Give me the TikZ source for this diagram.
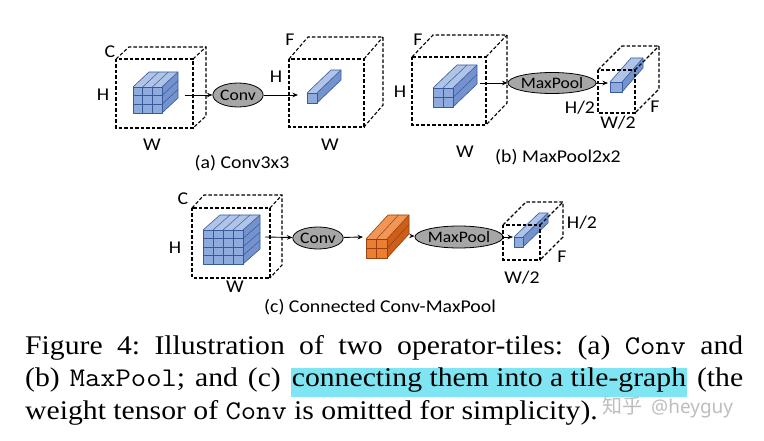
\documentclass[tikz,border=0pt]{standalone}
\usepackage{fontspec}
\usetikzlibrary{arrows.meta,shapes.geometric}
\newfontfamily\diag[FakeStretch=1.1]{Carlito}
\newfontfamily\capfont[FakeStretch=1.1]{Liberation Serif}
\newfontfamily\capmono[FakeStretch=1.1]{Latin Modern Mono}
\newfontfamily\cjk{Noto Sans CJK SC}
\newfontfamily\wmfont{Noto Sans}
\definecolor{cubeF}{RGB}{143,170,220}
\definecolor{cubeT}{RGB}{176,196,232}
\definecolor{cubeR}{RGB}{116,147,206}
\definecolor{cubeL}{RGB}{55,90,155}
\definecolor{orF}{RGB}{237,125,49}
\definecolor{orT}{RGB}{242,150,85}
\definecolor{orR}{RGB}{205,95,25}
\definecolor{orL}{RGB}{150,65,15}
\definecolor{ellfill}{RGB}{166,166,166}
\definecolor{hl}{RGB}{128,229,242}
\definecolor{wm}{RGB}{190,190,190}
\newcommand{\tilecube}[9]{%
  \fill[#9F] (#1,#2) rectangle ({#1+#3},{#2+#4});
  \fill[#9T] (#1,#2) -- ({#1+#5},{#2+(#6)}) -- ({#1+#3+#5},{#2+(#6)}) -- ({#1+#3},#2) -- cycle;
  \fill[#9R] ({#1+#3},#2) -- ({#1+#3+#5},{#2+(#6)}) -- ({#1+#3+#5},{#2+#4+(#6)}) -- ({#1+#3},{#2+#4}) -- cycle;
  \ifnum#7>1
    \pgfmathtruncatemacro\nxm{#7-1}%
    \foreach \i in {1,...,\nxm}{%
      \draw[#9L, line width=0.5pt] ({#1+\i*#3/#7},#2) -- ({#1+\i*#3/#7},{#2+#4});
      \draw[#9L, line width=0.5pt] ({#1+\i*#3/#7},#2) -- ({#1+\i*#3/#7+#5},{#2+(#6)});
    }%
  \fi
  \ifnum#8>1
    \pgfmathtruncatemacro\nym{#8-1}%
    \foreach \j in {1,...,\nym}{%
      \draw[#9L, line width=0.5pt] (#1,{#2+\j*#4/#8}) -- ({#1+#3},{#2+\j*#4/#8});
      \draw[#9L, line width=0.5pt] ({#1+#3},{#2+\j*#4/#8}) -- ({#1+#3+#5},{#2+\j*#4/#8+(#6)});
    }%
  \fi
  \draw[#9L, line width=0.6pt, line join=round] (#1,#2) rectangle ({#1+#3},{#2+#4});
  \draw[#9L, line width=0.6pt, line join=round] (#1,#2) -- ({#1+#5},{#2+(#6)}) -- ({#1+#3+#5},{#2+(#6)}) -- ({#1+#3+#5},{#2+#4+(#6)}) -- ({#1+#3},{#2+#4});
  \draw[#9L, line width=0.6pt] ({#1+#3},#2) -- ({#1+#3+#5},{#2+(#6)});
}
\newcommand{\dbox}[6]{%
  \draw[dbx] (#1,#2) rectangle ({#1+#3},{#2+#4});
  \draw[dbx] (#1,#2) -- ({#1+#5},{#2+(#6)}) -- ({#1+#3+#5},{#2+(#6)}) -- ({#1+#3+#5},{#2+#4+(#6)}) -- ({#1+#3},{#2+#4});
  \draw[dbx] ({#1+#3},#2) -- ({#1+#3+#5},{#2+(#6)});
}
\frenchspacing
\begin{document}
\begin{tikzpicture}[x=1pt,y=-1pt,
  dbx/.style={black, line width=1.1pt, dash pattern=on 3.5pt off 2pt},
  arr/.style={-{Stealth[length=5.5pt,width=4.5pt]}, line width=0.9pt},
  ell/.style={ellipse, draw=black, line width=0.8pt, fill=ellfill, inner sep=0pt, font=\diag\fontsize{16}{18}\selectfont},
  lab/.style={inner sep=0pt, font=\diag\fontsize{18}{20}\selectfont},
  capline/.style={anchor=base west, inner sep=0pt, font=\capfont\fontsize{27}{32}\selectfont}]
\useasboundingbox (0,0) rectangle (764,441);
\fill[white] (0,0) rectangle (764,441);

% ---------- (a) Conv3x3 ----------
\dbox{116}{59}{77}{69}{13}{-12}
\tilecube{133}{87}{29}{26}{16}{-15}{3}{3}{cube}
\coordinate (a1) at (185,95);
\node[ell, minimum width=48pt, minimum height=24pt] (convA) at (238,95) {Conv};
\coordinate (a2) at (298,95);
\tilecube{307}{93}{10}{10}{24}{-23}{1}{1}{cube}
\dbox{289}{59}{75}{68}{19}{-22}
\draw[arr] (a1) -- (convA);
\draw[arr] (convA) -- (a2);
\node[lab] (aC) at (110,52) {C};
\node[lab] (aH) at (103,95) {H};
\node[lab] (aW) at (152,145) {W};
\node[lab] (aF) at (290,40) {F};
\node[lab] (aH2) at (276,77) {H};
\node[lab] (aW2) at (330,145) {W};
\node[lab] (acap) at (242,163) {(a) Conv3x3};

% ---------- (b) MaxPool2x2 ----------
\dbox{412}{57}{74}{68}{21}{-22}
\tilecube{433}{88}{20}{19}{24}{-23}{2}{2}{cube}
\coordinate (b1) at (480,83);
\node[ell, minimum width=72pt, minimum height=21pt] (poolB) at (552,83) {MaxPool};
\coordinate (b2) at (608,83);
\tilecube{610}{82}{12}{10}{21}{-24}{1}{1}{cube}
\dbox{598}{70}{37}{43}{24}{-24}
\draw[arr] (b1) -- (poolB);
\draw[arr] (poolB) -- (b2);
\node[lab] (bF) at (418,40) {F};
\node[lab] (bH) at (400,92) {H};
\node[lab] (bW) at (465,152) {W};
\node[lab] (bH2) at (580,108) {H/2};
\node[lab] (bW2) at (618,123) {W/2};
\node[lab] (bF2) at (655,107) {F};
\node[lab] (bcap) at (558,157) {(b) MaxPool2x2};

% ---------- (c) Connected Conv-MaxPool ----------
\dbox{192}{208}{78}{70}{12}{-13}
\tilecube{203}{230}{40}{34}{17}{-15}{4}{4}{cube}
\coordinate (c1) at (265,237);
\node[ell, minimum width=50pt, minimum height=22pt] (convC) at (318,238) {Conv};
\coordinate (c2) at (363,237);
\tilecube{366}{239}{21}{19}{22}{-24}{2}{2}{or}
\coordinate (c3) at (413,236);
\node[ell, minimum width=68pt, minimum height=22pt] (poolC) at (459,237) {MaxPool};
\coordinate (c4) at (513,237);
\tilecube{514}{237}{9}{10}{25}{-24}{1}{1}{cube}
\dbox{503}{225}{37}{35}{23}{-23}
\draw[arr] (c1) -- (convC);
\draw[arr] (convC) -- (c2);
\draw[arr] (c3) -- (poolC);
\draw[arr] (poolC) -- (c4);
\node[lab] (cC) at (183,199) {C};
\node[lab] (cH) at (175,248) {H};
\node[lab] (cW) at (235,287) {W};
\node[lab] (cH2) at (582,223) {H/2};
\node[lab] (cF) at (562,257) {F};
\node[lab] (cW2) at (522,278) {W/2};
\node[lab] (ccap) at (380,307) {(c) Connected Conv-MaxPool};

% ---------- caption ----------
\setlength{\fboxsep}{0pt}
\node[capline] (cap1) at (25,354) {\makebox[718pt][s]{Figure 4: Illustration of two operator-tiles: (a) {\capmono Conv} and}};
\node[capline] (cap2) at (25,386.5) {\makebox[718pt][s]{(b) {\capmono MaxPool}; and (c) \colorbox{hl}{\rule[-10.5pt]{0pt}{29.5pt}\kern1pt connecting them into a tile-graph\kern1pt} (the}};
\node[capline] (cap3) at (25,419) {weight tensor of {\capmono Conv} is omitted for simplicity).};

% ---------- watermark ----------
\node[inner sep=0pt, anchor=west, text=wm] (wmark) at (602,407) {{\cjk\fontsize{20}{22}\selectfont 知乎}\hspace{9pt}{\wmfont\fontsize{19}{22}\selectfont @heyguy}};
\end{tikzpicture}
\end{document}
